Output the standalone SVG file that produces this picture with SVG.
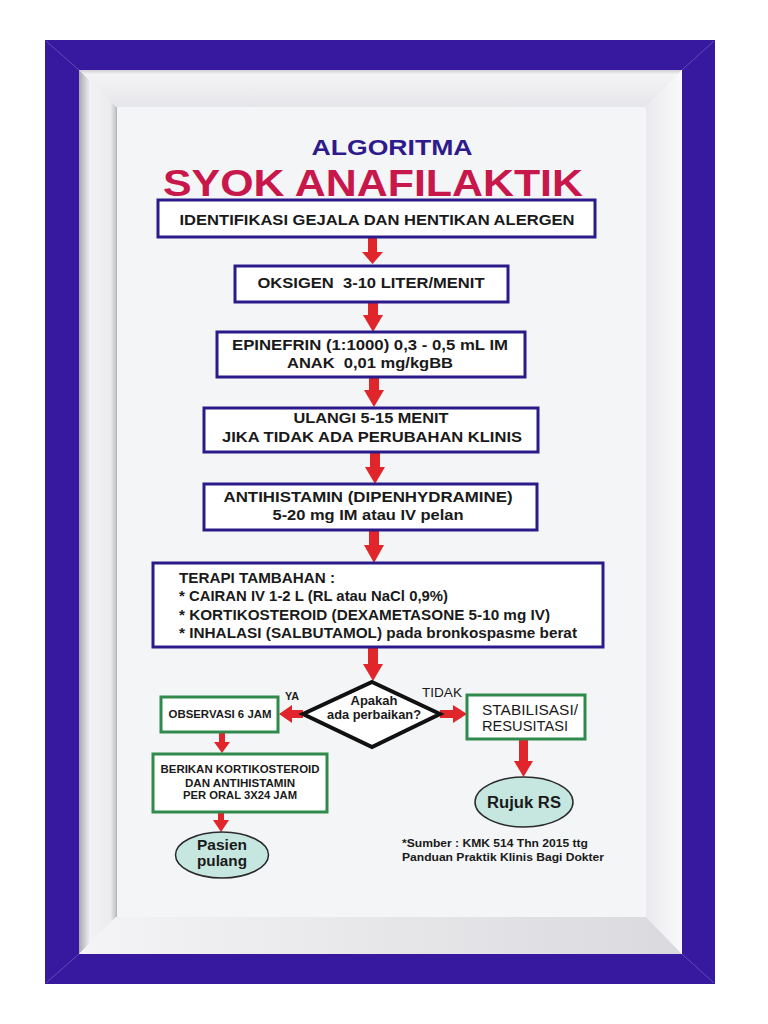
<svg xmlns="http://www.w3.org/2000/svg" width="768" height="1024" viewBox="0 0 768 1024">
<defs>
<style>
.t{font-family:"Liberation Sans",Arial,sans-serif;font-weight:bold;fill:#1a1a1a;text-anchor:middle}
.tl{font-family:"Liberation Sans",Arial,sans-serif;font-weight:bold;fill:#1a1a1a}
.bb{fill:#ffffff;stroke:#2b1a8a;stroke-width:3}
.gb{fill:#ffffff;stroke:#2f8a4c;stroke-width:3}
.el{fill:#c6e6e0;stroke:#2a2a2a;stroke-width:1.5}
.arr{fill:#e0262b}
</style>
<linearGradient id="gTop" x1="0" y1="0" x2="0" y2="1"><stop offset="0" stop-color="#d0d0d4"/><stop offset="0.12" stop-color="#f4f4f6"/><stop offset="1" stop-color="#e6e6ea"/></linearGradient>
<linearGradient id="gLeft" x1="0" y1="0" x2="1" y2="0"><stop offset="0" stop-color="#a8a8ae"/><stop offset="0.3" stop-color="#f2f2f4"/><stop offset="0.85" stop-color="#ececef"/><stop offset="1" stop-color="#c4c4c8"/></linearGradient>
<linearGradient id="gBot" x1="0" y1="0" x2="1" y2="0"><stop offset="0" stop-color="#f4f4f6"/><stop offset="1" stop-color="#dadade"/></linearGradient>
<linearGradient id="gRight" x1="0" y1="0" x2="1" y2="0"><stop offset="0" stop-color="#eaeaee"/><stop offset="1" stop-color="#fafafc"/></linearGradient>
</defs>
<rect width="768" height="1024" fill="#ffffff"/>
<g id="frame">
<rect x="45" y="40" width="670" height="944" fill="#3719a0"/>
<g stroke="#7a6cc8" stroke-width="1" opacity="0.6">
<line x1="46" y1="41" x2="79" y2="70"/>
<line x1="714" y1="41" x2="682" y2="70"/>
<line x1="46" y1="983" x2="79" y2="954"/>
<line x1="714" y1="983" x2="682" y2="954"/>
</g>
<rect x="79" y="70" width="603" height="884" fill="#f2f2f4"/>
<polygon points="79,70 682,70 646,107 116,107" fill="url(#gTop)"/>
<polygon points="79,70 116,107 116,917 79,954" fill="url(#gLeft)"/>
<polygon points="79,954 116,917 646,917 682,954" fill="url(#gBot)"/>
<polygon points="682,70 646,107 646,917 682,954" fill="url(#gRight)"/>
<rect x="116" y="107" width="530" height="810" fill="#f4f5f7"/>
<line x1="116.5" y1="107" x2="116.5" y2="917" stroke="#b8b8bc" stroke-width="1"/>
</g>
<g id="title">
<text class="t" x="392" y="155" font-size="22" style="fill:#2e1a8c" textLength="161" lengthAdjust="spacingAndGlyphs">ALGORITMA</text>
<text class="t" x="373" y="196" font-size="37" style="fill:#c8174a" textLength="420" lengthAdjust="spacingAndGlyphs">SYOK ANAFILAKTIK</text>
</g>
<g id="connectors">
<path class="arr" d="M368,237 H377 V252 H383 L372.5,264 L362,252 H368 Z"/>
<path class="arr" d="M368,302 H378 V315 H383 L373,332 L363,315 H368 Z"/>
<path class="arr" d="M369,377 H379 V390 H384 L374,407 L364,390 H369 Z"/>
<path class="arr" d="M370,452 H380 V467 H385 L375,484 L365,467 H370 Z"/>
<path class="arr" d="M369,530 H379 V545 H384 L374,563 L364,545 H369 Z"/>
<path class="arr" d="M368,647 H378 V664 H383 L373,681 L363,664 H368 Z"/>
<path class="arr" d="M303,710 H292 V705 L279,714 L292,723 V718 H303 Z"/>
<path class="arr" d="M440,710 H453 V705 L467,714 L453,723 V718 H440 Z"/>
<path class="arr" d="M219,732 H225 V742 H230 L222,753 L214,742 H219 Z"/>
<path class="arr" d="M218,811 H224 V820 H229 L221,832 L213,820 H218 Z"/>
<path class="arr" d="M519,739 H528 V761 H533 L523.5,777 L514,761 H519 Z"/>
</g>
<g id="n1">
<rect class="bb" x="158" y="200" width="437" height="37"/>
<text class="t" x="377" y="225" font-size="15.5" textLength="395" lengthAdjust="spacingAndGlyphs">IDENTIFIKASI GEJALA DAN HENTIKAN ALERGEN</text>
</g>
<g id="n2">
<rect class="bb" x="235" y="266" width="273" height="36"/>
<text class="t" x="371" y="288" font-size="15" xml:space="preserve" textLength="227" lengthAdjust="spacingAndGlyphs">OKSIGEN  3-10 LITER/MENIT</text>
</g>
<g id="n3">
<rect class="bb" x="217" y="332" width="308" height="45"/>
<text class="t" x="370" y="350" font-size="15" textLength="276" lengthAdjust="spacingAndGlyphs">EPINEFRIN (1:1000) 0,3 - 0,5 mL IM</text>
<text class="t" x="370" y="368" font-size="15" xml:space="preserve" textLength="166" lengthAdjust="spacingAndGlyphs">ANAK  0,01 mg/kgBB</text>
</g>
<g id="n4">
<rect class="bb" x="204" y="408" width="334" height="44"/>
<text class="t" x="371" y="423" font-size="15" textLength="155" lengthAdjust="spacingAndGlyphs">ULANGI 5-15 MENIT</text>
<text class="t" x="372" y="442" font-size="15" textLength="300" lengthAdjust="spacingAndGlyphs">JIKA TIDAK ADA PERUBAHAN KLINIS</text>
</g>
<g id="n5">
<rect class="bb" x="204" y="484" width="333" height="46"/>
<text class="t" x="368" y="502" font-size="15" textLength="289" lengthAdjust="spacingAndGlyphs">ANTIHISTAMIN (DIPENHYDRAMINE)</text>
<text class="t" x="368" y="520" font-size="15" textLength="191" lengthAdjust="spacingAndGlyphs">5-20 mg IM atau IV pelan</text>
</g>
<g id="n6">
<rect class="bb" x="153" y="563" width="450" height="84"/>
<text class="tl" x="179" y="583" font-size="14" textLength="156" lengthAdjust="spacingAndGlyphs">TERAPI TAMBAHAN :</text>
<text class="tl" x="179" y="601" font-size="14" textLength="269" lengthAdjust="spacingAndGlyphs">* CAIRAN IV 1-2 L (RL atau NaCl 0,9%)</text>
<text class="tl" x="179" y="620" font-size="14" textLength="371" lengthAdjust="spacingAndGlyphs">* KORTIKOSTEROID (DEXAMETASONE 5-10 mg IV)</text>
<text class="tl" x="179" y="638" font-size="14" textLength="398" lengthAdjust="spacingAndGlyphs">* INHALASI (SALBUTAMOL) pada bronkospasme berat</text>
</g>
<g id="decision">
<polygon points="372,682 440,714 372,747 303,714" fill="#ffffff" stroke="#111111" stroke-width="4"/>
<text class="t" x="374" y="705" font-size="12" textLength="47" lengthAdjust="spacingAndGlyphs">Apakah</text>
<text class="t" x="374" y="719" font-size="12" textLength="94" lengthAdjust="spacingAndGlyphs">ada perbaikan?</text>
</g>
<g id="labels">
<text class="t" x="292" y="700" font-size="11" textLength="14" lengthAdjust="spacingAndGlyphs">YA</text>
<text class="t" x="442" y="697" font-size="13" style="font-weight:normal" textLength="40" lengthAdjust="spacingAndGlyphs">TIDAK</text>
</g>
<g id="n7">
<rect class="gb" x="161" y="697" width="117" height="35"/>
<text class="t" x="220" y="718" font-size="11" textLength="103" lengthAdjust="spacingAndGlyphs">OBSERVASI 6 JAM</text>
</g>
<g id="n8">
<rect class="gb" x="467" y="695" width="118" height="44"/>
<text class="tl" x="482" y="715" font-size="14" style="font-weight:normal" textLength="96" lengthAdjust="spacingAndGlyphs">STABILISASI/</text>
<text class="tl" x="482" y="731" font-size="14" style="font-weight:normal" textLength="86" lengthAdjust="spacingAndGlyphs">RESUSITASI</text>
</g>
<g id="n9">
<rect class="gb" x="153" y="754" width="174" height="58"/>
<text class="t" x="240" y="773" font-size="10.5" textLength="159" lengthAdjust="spacingAndGlyphs">BERIKAN KORTIKOSTEROID</text>
<text class="t" x="240" y="787" font-size="10.5" textLength="110" lengthAdjust="spacingAndGlyphs">DAN ANTIHISTAMIN</text>
<text class="t" x="240" y="799" font-size="10.5" textLength="114" lengthAdjust="spacingAndGlyphs">PER ORAL 3X24 JAM</text>
</g>
<g id="n10">
<ellipse class="el" cx="222" cy="855" rx="46.5" ry="23"/>
<text class="t" x="222" y="850" font-size="15" textLength="50" lengthAdjust="spacingAndGlyphs">Pasien</text>
<text class="t" x="222" y="866" font-size="15" textLength="50" lengthAdjust="spacingAndGlyphs">pulang</text>
</g>
<g id="n11">
<ellipse class="el" cx="524" cy="802" rx="49" ry="25"/>
<text class="t" x="524" y="808" font-size="16" textLength="74" lengthAdjust="spacingAndGlyphs">Rujuk RS</text>
</g>
<g id="source">
<text class="tl" x="402" y="847" font-size="11" textLength="186" lengthAdjust="spacingAndGlyphs">*Sumber : KMK 514 Thn 2015 ttg</text>
<text class="tl" x="402" y="861" font-size="11" textLength="202" lengthAdjust="spacingAndGlyphs">Panduan Praktik Klinis Bagi Dokter</text>
</g>
</svg>
